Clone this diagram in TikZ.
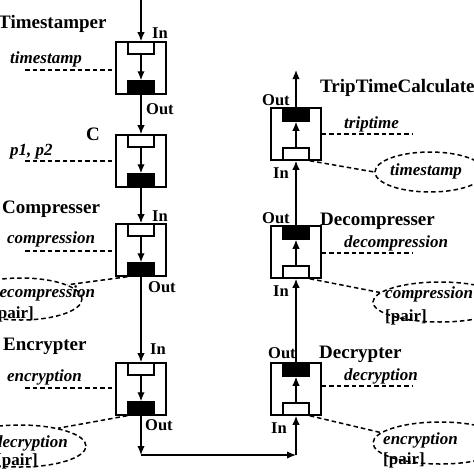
\documentclass[tikz,border=0pt]{standalone}
\usepackage{fontspec}
\setmainfont{Liberation Serif}
\usetikzlibrary{arrows.meta,shapes.geometric}
\begin{document}
\begin{tikzpicture}[x=1pt,y=-1pt]
\tikzset{
 compbox/.style={draw, line width=1.6pt, minimum width=50pt, minimum height=52pt, inner sep=0pt, fill=white},
 portw/.style={draw, line width=1.5pt, fill=white, minimum width=26pt, minimum height=12pt, inner sep=0pt},
 portb/.style={draw, line width=1.5pt, fill=black, minimum width=26pt, minimum height=13pt, inner sep=0pt},
 flow/.style={line width=1.4pt, -{Latex[length=9pt,width=7.5pt]}},
 attr/.style={line width=1.5pt, dash pattern=on 4.5pt off 3pt},
 title/.style={anchor=base west, inner sep=0pt, font=\fontsize{19}{19}\selectfont\bfseries},
 portlbl/.style={anchor=base west, inner sep=0pt, font=\fontsize{16.5}{16.5}\selectfont\bfseries},
 attrtext/.style={anchor=base west, inner sep=0pt, font=\fontsize{17}{17}\selectfont\bfseries\itshape},
 pairtext/.style={anchor=base west, inner sep=0pt, font=\fontsize{17}{17}\selectfont\bfseries},
 pairell/.style={draw, ellipse, line width=1.5pt, dash pattern=on 4.5pt off 3pt, inner sep=0pt},
}
\useasboundingbox (0,0) rectangle (474,474);
\fill[white] (0,0) rectangle (474,474);
\clip (0,0) rectangle (474,474);

% ---------- left column ----------
\node[compbox] (ts) at (141,68) {};
\node[portw] (ts-w) at (141,48) {};
\node[portb] (ts-b) at (141,87.5) {};
\node[compbox] (cc) at (141,161) {};
\node[portw] (cc-w) at (141,141) {};
\node[portb] (cc-b) at (141,180.5) {};
\node[compbox] (co) at (141,250) {};
\node[portw] (co-w) at (141,230) {};
\node[portb] (co-b) at (141,269.5) {};
\node[compbox] (en) at (141,389) {};
\node[portw] (en-w) at (141,369) {};
\node[portb] (en-b) at (141,408.5) {};

% ---------- right column ----------
\node[compbox] (tt) at (296,134) {};
\node[portb] (tt-b) at (296,114.5) {};
\node[portw] (tt-w) at (296,154) {};
\node[compbox] (dc) at (296,252) {};
\node[portb] (dc-b) at (296,232.5) {};
\node[portw] (dc-w) at (296,272) {};
\node[compbox] (dr) at (296,389) {};
\node[portb] (dr-b) at (296,369.5) {};
\node[portw] (dr-w) at (296,409) {};

% inner arrows
\draw[flow] (ts-w.south) -- (ts-b.north);
\draw[flow] (cc-w.south) -- (cc-b.north);
\draw[flow] (co-w.south) -- (co-b.north);
\draw[flow] (en-w.south) -- (en-b.north);
\draw[flow] (tt-w.north) -- (tt-b.south);
\draw[flow] (dc-w.north) -- (dc-b.south);
\draw[flow] (dr-w.north) -- (dr-b.south);

% main flow
\coordinate (start) at (141,0);
\coordinate (turnL) at (141,455);
\coordinate (turnR) at (296,455);
\coordinate (finish) at (296,70);
\draw[flow] (start) -- (ts.north);
\draw[flow] (ts.south) -- (cc.north);
\draw[flow] (cc.south) -- (co.north);
\draw[flow] (co.south) -- (en.north);
\draw[flow] (en.south) -- (turnL);
\draw[flow] (turnL) -- (turnR);
\draw[flow] (turnR) -- (dr.south);
\draw[flow] (dr.north) -- (dc.south);
\draw[flow] (dc.north) -- (tt.south);
\draw[flow] (tt.north) -- (finish);

% attribute lines (left)
\coordinate (la1) at (25,70);
\coordinate (la2) at (25,161);
\coordinate (la3) at (25,251);
\coordinate (la4) at (25,388);
\draw[attr] (la1) -- (la1 -| ts.west);
\draw[attr] (la2) -- (la2 -| cc.west);
\draw[attr] (la3) -- (la3 -| co.west);
\draw[attr] (la4) -- (la4 -| en.west);
% attribute lines (right)
\coordinate (ra1) at (412,134);
\coordinate (ra2) at (412,253);
\coordinate (ra3) at (412,386);
\draw[attr] (ra1 -| tt.east) -- (ra1);
\draw[attr] (ra2 -| dc.east) -- (ra2);
\draw[attr] (ra3 -| dr.east) -- (ra3);

% ellipses
\node[pairell, minimum width=122pt, minimum height=42pt] (e1) at (21,299) {};
\node[pairell, minimum width=132pt, minimum height=42pt] (e2) at (20,446) {};
\node[pairell, minimum width=110pt, minimum height=40pt] (e3) at (430,172) {};
\node[pairell, minimum width=134pt, minimum height=40pt] (e4) at (440,302) {};
\node[pairell, minimum width=134pt, minimum height=42pt] (e5) at (440,443) {};
\draw[attr] (co-b.south west) -- (e1.17);
\draw[attr] (en-b.south west) -- (e2.25);
\draw[attr] (tt-w.south east) -- (e3.180);
\draw[attr] (dc-w.south east) -- (e4.171);
\draw[attr] (dr-w.south east) -- (e5.170);

% titles
\node[title] (tTs) at (-2,28) {Timestamper};
\node[title] (tC) at (86,140) {C};
\node[title] (tCo) at (2,213) {Compresser};
\node[title] (tEn) at (3,350) {Encrypter};
\node[title] (tTt) at (320,92) {TripTimeCalculater};
\node[title] (tDc) at (320,225) {Decompresser};
\node[title] (tDr) at (319,358) {Decrypter};

% port labels
\node[portlbl] (p1) at (152,38) {In};
\node[portlbl] (p2) at (146,114) {Out};
\node[portlbl] (p3) at (152,221) {In};
\node[portlbl] (p4) at (148,292) {Out};
\node[portlbl] (p5) at (150,354) {In};
\node[portlbl] (p6) at (145,430) {Out};
\node[portlbl] (p7) at (262,105) {Out};
\node[portlbl] (p8) at (273,178) {In};
\node[portlbl] (p9) at (262,223) {Out};
\node[portlbl] (p10) at (273,296) {In};
\node[portlbl] (p11) at (268,358) {Out};
\node[portlbl] (p12) at (271,433) {In};

% attribute texts
\node[attrtext] (a1) at (10,63) {timestamp};
\node[attrtext] (a2) at (10,155) {p1, p2};
\node[attrtext] (a3) at (7,243) {compression};
\node[attrtext] (a4) at (7,381) {encryption};
\node[attrtext] (a5) at (344,128) {triptime};
\node[attrtext] (a6) at (344,247) {decompression};
\node[attrtext] (a7) at (344,380) {decryption};

% ellipse texts
\node[attrtext] (x1) at (-9,297) {decompression};
\node[pairtext] (y1) at (-8,318) {[pair]};
\node[attrtext] (x2) at (-6,447) {decryption};
\node[pairtext] (y2) at (-4,465) {[pair]};
\node[attrtext] (x3) at (390,175) {timestamp};
\node[attrtext] (x4) at (385,298) {compression};
\node[pairtext] (y4) at (385,321) {[pair]};
\node[attrtext] (x5) at (383,444) {encryption};
\node[pairtext] (y5) at (383,464) {[pair]};
\end{tikzpicture}
\end{document}
